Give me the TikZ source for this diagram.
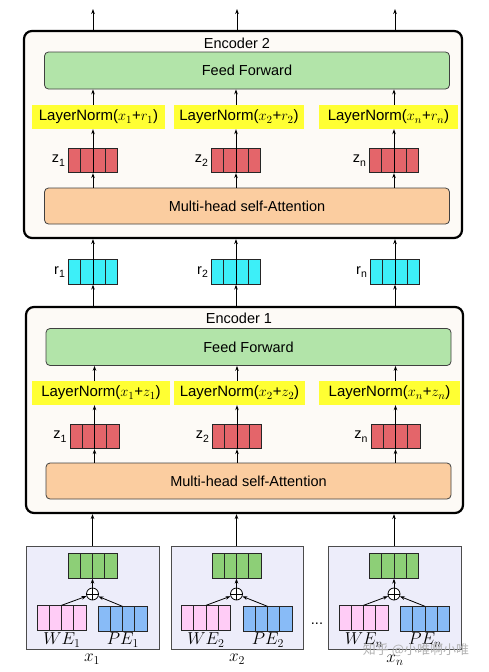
\documentclass[tikz,border=0pt]{standalone}
\usepackage[no-math]{fontspec}
\setmainfont{Liberation Sans}
\newfontfamily\cjk{Noto Sans CJK SC}
\usetikzlibrary{arrows.meta,calc}
\definecolor{encfill}{HTML}{FDFAF6}
\definecolor{ffgreen}{HTML}{B2E4A9}
\definecolor{mhaorange}{HTML}{FBCDA0}
\definecolor{lnyellow}{HTML}{FFFF33}
\definecolor{zred}{HTML}{E4656A}
\definecolor{rcyan}{HTML}{3DEFF8}
\definecolor{vgreen}{HTML}{8DCF77}
\definecolor{wepink}{HTML}{FFCCF6}
\definecolor{peblue}{HTML}{88BBF7}
\definecolor{embfill}{HTML}{EDEDFA}
\begin{document}
\begin{tikzpicture}[x=1pt,y=-1pt,
  font=\fontsize{14.5}{17}\selectfont,
  enc/.style={draw=black, line width=2.2pt, rounded corners=8pt, fill=encfill, inner sep=0},
  blockbox/.style={draw=black!75, line width=0.8pt, rounded corners=4pt, minimum width=405pt, inner sep=0},
  ffbox/.style={blockbox, fill=ffgreen, minimum height=37pt},
  mhabox/.style={blockbox, fill=mhaorange, minimum height=36pt},
  lnbox/.style={fill=lnyellow, inner xsep=0pt, inner ysep=0, minimum height=24pt, font=\fontsize{15}{17}\selectfont},
  vecbox/.style={draw=black!85, line width=0.8pt, fill=#1, minimum width=49pt, minimum height=24.5pt, inner sep=0,
    path picture={\foreach \i in {1,2,3}{\draw[line width=0.8pt,black!85]
      ($(path picture bounding box.south west)!\i/4!(path picture bounding box.south east)$) --
      ($(path picture bounding box.north west)!\i/4!(path picture bounding box.north east)$);}}},
  embbox/.style={draw=black!70, line width=0.9pt, fill=embfill, minimum width=133pt, minimum height=103pt, inner sep=0},
  plusnode/.style={circle, draw=black, line width=0.8pt, fill=white, minimum size=12pt, inner sep=0,
    path picture={\draw[line width=0.8pt] (path picture bounding box.north) -- (path picture bounding box.south)
      (path picture bounding box.west) -- (path picture bounding box.east);}},
  arr/.style={-{Stealth[length=5pt,width=3.6pt]}, line width=0.8pt},
  sublabel/.style={inner sep=0, anchor=east},
  mathlabel/.style={inner sep=0, font=\fontsize{16.5}{18}\selectfont}
]
\useasboundingbox (0,0) rectangle (488,672);

% ================= Encoder 2 =================
\node[enc, minimum width=438pt, minimum height=207pt] (enc2) at (243,134.5) {};
\node[inner sep=0] (enc2t) at (237,43) {Encoder 2};
\node[ffbox] (ff2) at (247,70.5) {Feed Forward};
\node[mhabox] (mha2) at (247,206) {Multi-head self-Attention};
\node[lnbox, minimum width=133pt] (lnb1) at (98.5,117) {LayerNorm($x_1$+$r_1$)};
\node[lnbox, minimum width=130pt] (lnb2) at (239,117) {LayerNorm($x_2$+$r_2$)};
\node[lnbox, minimum width=139pt] (lnb3) at (388.5,117) {LayerNorm($x_n$+$r_n$)};
\node[vecbox=zred] (zb1) at (93,160.5) {};
\node[vecbox=zred] (zb2) at (236,160.5) {};
\node[vecbox=zred] (zb3) at (394,160.5) {};
\node[sublabel] (zbl1) at ($(zb1.west)+(-3,0)$) {z\raisebox{-0.45ex}{\fontsize{10.5}{12}\selectfont 1}};
\node[sublabel] (zbl2) at ($(zb2.west)+(-3,0)$) {z\raisebox{-0.45ex}{\fontsize{10.5}{12}\selectfont 2}};
\node[sublabel] (zbl3) at ($(zb3.west)+(-3,0)$) {z\raisebox{-0.45ex}{\fontsize{10.5}{12}\selectfont n}};
\coordinate (top1) at (93,9);
\coordinate (top2) at (237,9);
\coordinate (top3) at (395,9);
\foreach \i in {1,2,3}{
  \draw[arr] (zb\i |- mha2.north) -- (zb\i.south);
  \draw[arr] (zb\i.south) -- (zb\i |- lnb\i.south);
  \draw[arr] (zb\i |- lnb\i.north) -- (zb\i |- ff2.south);
  \draw[arr] (top\i |- enc2.north) -- (top\i);
}

% ================= r vectors =================
\node[vecbox=rcyan] (rv1) at (93,272) {};
\node[vecbox=rcyan] (rv2) at (236,272) {};
\node[vecbox=rcyan] (rv3) at (395,272) {};
\node[sublabel] (rl1) at ($(rv1.west)+(-3,0)$) {r\raisebox{-0.45ex}{\fontsize{10.5}{12}\selectfont 1}};
\node[sublabel] (rl2) at ($(rv2.west)+(-3,0)$) {r\raisebox{-0.45ex}{\fontsize{10.5}{12}\selectfont 2}};
\node[sublabel] (rl3) at ($(rv3.west)+(-3,0)$) {r\raisebox{-0.45ex}{\fontsize{10.5}{12}\selectfont n}};

% ================= Encoder 1 =================
\node[enc, minimum width=437pt, minimum height=206pt] (enc1) at (244.5,410) {};
\node[inner sep=0] (enc1t) at (239,318) {Encoder 1};
\node[ffbox] (ff1) at (248.5,347) {Feed Forward};
\node[mhabox] (mha1) at (248.5,481) {Multi-head self-Attention};
\node[lnbox, minimum width=138pt] (lna1) at (101,393) {LayerNorm($x_1$+$z_1$)};
\node[lnbox, minimum width=131pt] (lna2) at (239.5,393) {LayerNorm($x_2$+$z_2$)};
\node[lnbox, minimum width=141pt] (lna3) at (389.5,393) {LayerNorm($x_n$+$z_n$)};
\node[vecbox=zred] (za1) at (94.5,436.5) {};
\node[vecbox=zred] (za2) at (237,436.5) {};
\node[vecbox=zred] (za3) at (395.5,436.5) {};
\node[sublabel] (zal1) at ($(za1.west)+(-3,0)$) {z\raisebox{-0.45ex}{\fontsize{10.5}{12}\selectfont 1}};
\node[sublabel] (zal2) at ($(za2.west)+(-3,0)$) {z\raisebox{-0.45ex}{\fontsize{10.5}{12}\selectfont 2}};
\node[sublabel] (zal3) at ($(za3.west)+(-3,0)$) {z\raisebox{-0.45ex}{\fontsize{10.5}{12}\selectfont n}};
\foreach \i in {1,2,3}{
  \draw[arr] (za\i |- mha1.north) -- (za\i.south);
  \draw[arr] (za\i.south) -- (za\i |- lna\i.south);
  \draw[arr] (za\i |- lna\i.north) -- (za\i |- ff1.south);
  \draw[arr] (rv\i |- enc1.north) -- (rv\i.south);
  \draw[arr] (rv\i.south) -- (rv\i |- enc2.south);
}

% ================= Embeddings =================
\node[embbox] (emb1) at (92.5,597.5) {};
\node[embbox, minimum width=132pt] (emb2) at (237,597.5) {};
\node[embbox] (emb3) at (394.5,597.5) {};

\node[vecbox=vgreen] (g1) at (92.5,566) {};
\node[vecbox=vgreen] (g2) at (236.5,566) {};
\node[vecbox=vgreen] (g3) at (394,566) {};
\node[plusnode] (p1) at (92.5,594) {};
\node[plusnode] (p2) at (236.5,594) {};
\node[plusnode] (p3) at (394,594) {};
\node[vecbox=wepink] (we1) at (61.5,618) {};
\node[vecbox=wepink] (we2) at (206,618) {};
\node[vecbox=wepink] (we3) at (363.5,618) {};
\node[vecbox=peblue] (pe1) at (122.5,619) {};
\node[vecbox=peblue] (pe2) at (267.5,619) {};
\node[vecbox=peblue] (pe3) at (425,619) {};
\node[mathlabel] (wel1) at (62,640) {$WE_1$};
\node[mathlabel] (wel2) at (206,640) {$WE_2$};
\node[mathlabel] (wel3) at (364,640) {$WE_n$};
\node[mathlabel] (pel1) at (123,640) {$PE_1$};
\node[mathlabel] (pel2) at (268,640) {$PE_2$};
\node[mathlabel] (pel3) at (425,640) {$PE_n$};
\node[mathlabel] (xl1) at (92,659) {$x_1$};
\node[mathlabel] (xl2) at (237,659) {$x_2$};
\node[mathlabel] (xl3) at (395,660) {$x_n$};
\node[inner sep=0] (dots) at (317,624) {...};
\foreach \i in {1,2,3}{
  \draw[arr] (p\i) -- (g\i.south);
  \draw[arr] (we\i.north) -- (p\i);
  \draw[arr] (pe\i.north) -- (p\i);
  \draw[arr] (g\i |- emb\i.north) -- (g\i |- enc1.south);
}

% watermark
\node[inner sep=0, text=black!30, font=\cjk\fontsize{13}{15}\selectfont] (wm) at (416,650) {知乎 @小唯啊小唯};
\end{tikzpicture}
\end{document}
